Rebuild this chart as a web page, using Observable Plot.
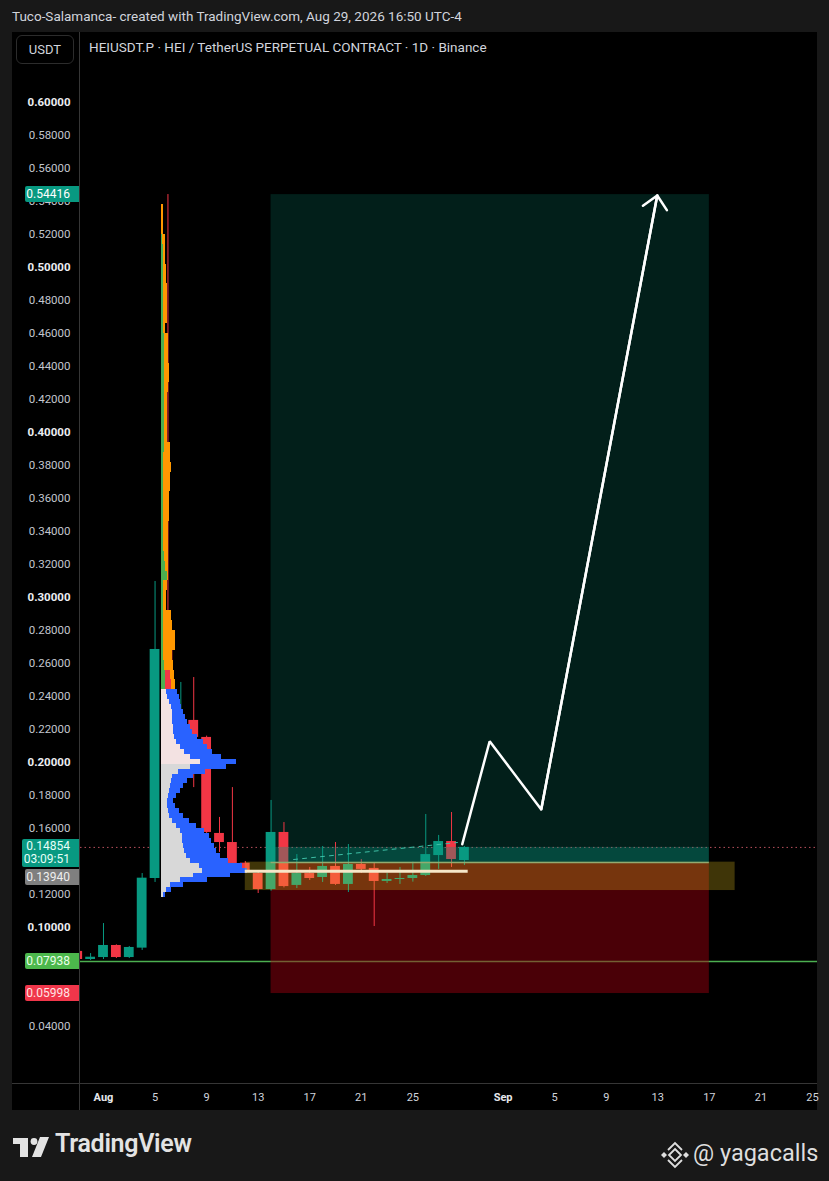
<!DOCTYPE html>
<html>
<head>
<meta charset="utf-8">
<script src="https://cdn.jsdelivr.net/npm/d3@7"></script>
<script src="https://cdn.jsdelivr.net/npm/@observablehq/plot@0.6"></script>
<style>
html,body{margin:0;padding:0;background:#181818;}
body{position:relative;width:829px;height:1181px;overflow:hidden;font-family:Roboto,"Noto Sans",sans-serif;}
#credit{position:absolute;left:12px;top:8px;font-size:13.5px;line-height:17px;color:#d1d4dc;white-space:nowrap;}
#panel{position:absolute;left:12px;top:32px;width:805px;height:1078px;background:#000;}
#panel svg{position:absolute;left:0;top:0;}
#vdiv{position:absolute;left:67px;top:0;width:1px;height:1078px;background:#363636;}
#hdiv{position:absolute;left:0;top:1051px;width:805px;height:1px;background:#363636;}
#unit{position:absolute;left:4px;top:3px;width:58px;height:29px;box-sizing:border-box;border:1px solid #2c2c2c;border-radius:6px;color:#d1d4dc;font-size:13px;line-height:27px;text-align:center;}
#symbol{position:absolute;left:77px;top:7px;font-size:13.5px;line-height:17px;color:#d1d4dc;white-space:nowrap;}
.plabel{position:absolute;box-sizing:border-box;font-size:12px;line-height:16px;text-align:right;padding-right:9px;border-radius:2px 0 0 2px;white-space:nowrap;}
#tvtext{position:absolute;left:55px;top:1129px;font-size:25px;font-weight:600;color:#e3e3e3;letter-spacing:-0.3px;}
#handle{position:absolute;left:693px;top:1139px;font-size:23.5px;color:#dedede;}
#logos{position:absolute;left:0;top:0;}
</style>
</head>
<body>
<div id="credit">Tuco-Salamanca- created with TradingView.com, Aug 29, 2026 16:50 UTC-4</div>
<div id="panel">
  <div id="vdiv"></div>
  <div id="hdiv"></div>
  <div id="unit">USDT</div>
  <div id="symbol">HEIUSDT.P · HEI / TetherUS PERPETUAL CONTRACT · 1D · Binance</div>
</div>
<svg id="logos" width="829" height="1181">
  <rect x="13" y="1138" width="15" height="6" fill="#e3e3e3"/>
  <rect x="20" y="1138" width="8" height="19" fill="#e3e3e3"/>
  <circle cx="34" cy="1141.5" r="3.4" fill="#e3e3e3"/>
  <polygon points="40,1137 49,1137 41,1157 32,1157" fill="#e3e3e3"/>
  <g fill="none" stroke="#dedede" stroke-width="1.8">
    <polygon points="675,1149 681,1155 675,1161 669,1155"/>
    <polyline points="668,1150 675,1143 682,1150"/>
    <polyline points="668,1160 675,1167 682,1160"/>
  </g>
  <g fill="#dedede">
    <polygon points="664,1152 667,1155 664,1158 661,1155"/>
    <polygon points="686,1152 689,1155 686,1158 683,1155"/>
  </g>
</svg>
<div id="tvtext">TradingView</div>
<div id="handle">@ yagacalls</div>
<script>
const DAY = 864e5;
const GREEN = "#089981", RED = "#f23645";

// ---- daily candles ----
const candleDates = ["2026-07-30","2026-07-31","2026-08-01","2026-08-02","2026-08-03","2026-08-04","2026-08-05","2026-08-06","2026-08-07","2026-08-08","2026-08-09","2026-08-10","2026-08-11","2026-08-12","2026-08-13","2026-08-14","2026-08-15","2026-08-16","2026-08-17","2026-08-18","2026-08-19","2026-08-20","2026-08-21","2026-08-22","2026-08-23","2026-08-24","2026-08-25","2026-08-26","2026-08-27","2026-08-28","2026-08-29"];
const candleOpen  = [0.0855,0.0806,0.0818,0.0891,0.0818,0.0875,0.1297,0.2685,0.2205,0.2255,0.2152,0.1570,0.1515,0.1390,0.1327,0.1230,0.1576,0.1255,0.1327,0.1303,0.1370,0.1261,0.1382,0.1358,0.1279,0.1291,0.1297,0.1315,0.1436,0.1521,0.1406];
const candleHigh  = [0.0870,0.0842,0.1024,0.0895,0.0885,0.1327,0.3097,0.5442,0.2485,0.2515,0.2160,0.1667,0.1848,0.1400,0.1340,0.1770,0.1636,0.1442,0.1364,0.1491,0.1515,0.1503,0.1412,0.1394,0.1329,0.1364,0.1396,0.1685,0.1558,0.1697,0.1491];
const candleLow   = [0.0800,0.0800,0.0806,0.0812,0.0812,0.0861,0.1273,0.2150,0.2150,0.1848,0.1560,0.1455,0.1385,0.1330,0.1206,0.1220,0.1240,0.1236,0.1285,0.1273,0.1255,0.1212,0.1327,0.1006,0.1267,0.1261,0.1275,0.1309,0.1352,0.1364,0.1376];
const candleClose = [0.0806,0.0820,0.0891,0.0818,0.0879,0.1299,0.2685,0.2205,0.2255,0.2152,0.1576,0.1515,0.1388,0.1333,0.1230,0.1576,0.1248,0.1327,0.1297,0.1370,0.1261,0.1382,0.1352,0.1279,0.1291,0.1297,0.1315,0.1442,0.1521,0.1412,0.14854];

// ---- visible range volume profile ----
const profileAnchor = "2026-08-05T11:25Z";
const vaRowBottom = [0.118,0.121,0.124,0.127,0.130,0.133,0.136,0.139,0.142,0.145,0.148,0.151,0.154,0.157,0.160,0.163,0.166,0.169,0.172,0.175,0.178,0.181,0.184,0.187,0.190,0.193,0.196,0.199,0.202,0.205,0.208,0.211,0.214,0.217,0.220,0.223,0.226,0.229,0.232,0.235,0.238,0.241];
const vaUpVolume   = [2,5,9,19,32,41,38,29,25,23,22,21,21,19,15,11,8,7,6,6,7,8,9,10,11,17,29,39,29,23,19,15,13,12,12,11,11,11,10,8,6,5];
const vaDownVolume = [2,5,13,27,37,45,43,38,34,32,31,29,27,24,20,17,14,11,8,6,8,11,13,16,21,27,36,36,31,28,27,27,23,19,17,15,13,11,10,11,12,11];
const upRowBottom = [0.244,0.250,0.256,0.262,0.268,0.274,0.280,0.286,0.292,0.298,0.304,0.310,0.316,0.322,0.328,0.334,0.340,0.346,0.352,0.358,0.364,0.370,0.376,0.382,0.388,0.394,0.400,0.406,0.412,0.418,0.424,0.430,0.436,0.442,0.448,0.454,0.460,0.466,0.472,0.478,0.484,0.490,0.496,0.502,0.508,0.514,0.520,0.526,0.532];
const upGreenVolume  = [4,4,3,2.5,2.5,2.5,2.5,2.5,2.5,2.5,2.5,6,4,3,2.5,2.5,2.5,2.5,2.5,2.5,2.5,2.5,2.5,2.5,3,3,3,3,3,3,3,3,3,3,3,3,2.5,2.5,2.5,2.5,2.5,2,2,2,2,1.5,0,0,0];
const upRedVolume    = [6,5,0,0,0,0,0,0,0,0,0,0,0,0,0,0,0,0,0,0,0,0,0,0,0,0,0,0,0,0,0,0,0,0,0,0,0,0,0,0,0,0,0,0,0,0,0,0,0];
const upOrangeVolume = [4,4,9,9,12,12,9,8,3,3,3.5,1.5,3,4,4.5,4.5,5,5.5,6,6,6.5,7,7.5,7,6,3,3,3,3,3,4,5,5,4.5,4,4,2,3.5,3.5,3.5,3.5,3,3,2.5,2.5,2.5,2.6,2.6,2.5];

// ---- axis ticks (0.06, 0.08 and 0.14 sit under price labels) ----
const yTicksMinor = [0.04,0.12,0.16,0.18,0.22,0.24,0.26,0.28,0.32,0.34,0.36,0.38,0.42,0.44,0.46,0.48,0.52,0.54,0.56,0.58];
const yTicksMajor = [0.10,0.20,0.30,0.40,0.50,0.60];
const xTickDates  = ["2026-08-05","2026-08-09","2026-08-13","2026-08-17","2026-08-21","2026-08-25","2026-09-05","2026-09-09","2026-09-13","2026-09-17","2026-09-21","2026-09-25"];
const xMonthDates = ["2026-08-01","2026-09-01"];
const monthNames  = ["Aug","Sep"];

// ---- long position tool & drawings ----
const positionStart = "2026-08-14", positionEnd = "2026-09-17";
const entryPrice = 0.1394, targetPrice = 0.54416, stopPrice = 0.05998, lastPrice = 0.14854;
const zoneStart = "2026-08-12", zoneEnd = "2026-09-19", zoneLow = 0.1224, zoneHigh = 0.1396;
const pocStart = "2026-08-12", pocEnd = "2026-08-29T07:00Z", pocPrice = 0.1341;
const supportPrice = 0.07938;
const pathDates = ["2026-08-15T18:00Z","2026-08-28T11:00Z"];
const pathPrices = [0.1412,0.1515];
const zigDates  = ["2026-08-28T20:00Z","2026-08-30T23:00Z","2026-09-03T23:00Z","2026-09-12T23:00Z"];
const zigPrices = [0.1505,0.2129,0.1715,0.5436];

const priceLabels = [
  {v: targetPrice, text: "0.54416", fill: GREEN, color: "#ffffff"},
  {v: lastPrice, text: "0.14854", sub: "03:09:51", fill: GREEN, color: "#e6fff8"},
  {v: entryPrice, text: "0.13940", fill: "#7f7f7f", color: "#eeeeee"},
  {v: supportPrice, text: "0.07938", fill: "#4cb74c", color: "#eaffea"},
  {v: stopPrice, text: "0.05998", fill: "#f0364a", color: "#ffe4e4"}
];

// ---- build data ----
const candles = candleDates.map((s, i) => ({
  date: new Date(s + "T00:00:00Z"), o: candleOpen[i], h: candleHigh[i], l: candleLow[i], c: candleClose[i],
  color: candleClose[i] >= candleOpen[i] ? GREEN : RED
}));
const anchor = +new Date(profileAnchor);
const volUnit = DAY / 12.89; // one volume unit = one pixel of bar length
const seg = (p0, p1, a, b, fill) => ({p0, p1, x1: new Date(anchor + a * volUnit), x2: new Date(anchor + b * volUnit), fill});
const profile = [];
vaRowBottom.forEach((p, i) => {
  const u = vaUpVolume[i], dn = vaDownVolume[i];
  profile.push(seg(p, p + 0.003, 0, u, p >= 0.199 ? "#f3e2e2" : "#d8d8d8"));
  profile.push(seg(p, p + 0.003, u, u + dn, "#2962ff"));
});
upRowBottom.forEach((p, i) => {
  const g = upGreenVolume[i], r = upRedVolume[i], o = upOrangeVolume[i];
  if (g > 0) profile.push(seg(p, p + 0.006, 0, g, "#4caf50"));
  if (r > 0) profile.push(seg(p, p + 0.006, g, g + r, RED));
  if (o > 0) profile.push(seg(p, p + 0.006, g + r, g + r + o, "#ff9800"));
});
const U = s => new Date(s.length <= 10 ? s + "T00:00:00Z" : s);
const aug1 = +U("2026-08-01");

const chart = Plot.plot({
  width: 805, height: 1078,
  marginLeft: 68, marginRight: 0, marginTop: 0, marginBottom: 27,
  style: {background: "#000", color: "#d1d4dc", fontFamily: "Roboto, sans-serif", overflow: "visible"},
  x: {type: "utc", domain: [new Date(aug1 - 1.784 * DAY), new Date(aug1 + 55.39 * DAY)], axis: null},
  y: {type: "linear", domain: [0.005455, 0.64242], axis: null},
  color: {type: "identity"},
  marks: [
    // position tool boxes
    Plot.rect([0], {x1: () => U(positionStart), x2: () => U(positionEnd), y1: () => entryPrice, y2: () => targetPrice, fill: GREEN, fillOpacity: 0.2}),
    Plot.ruleY([supportPrice], {stroke: "#4caf50", strokeWidth: 1.5}),
    Plot.rect([0], {x1: () => U(positionStart), x2: () => U(positionEnd), y1: () => stopPrice, y2: () => entryPrice, fill: "#a3000f", fillOpacity: 0.45}),
    Plot.ruleY([lastPrice], {stroke: "#b8505c", strokeWidth: 1, strokeDasharray: "1.5,3"}),
    // candles
    Plot.ruleX(candles, {x: "date", y1: "l", y2: "h", stroke: "color", strokeWidth: 1, clip: true}),
    Plot.rect(candles, {x1: d => new Date(+d.date - 0.38 * DAY), x2: d => new Date(+d.date + 0.38 * DAY), y1: "o", y2: "c", fill: "color", clip: true}),
    // volume profile
    Plot.rect(profile, {x1: "x1", x2: "x2", y1: "p0", y2: "p1", fill: "fill", shapeRendering: "crispEdges"}),
    // in-profit band and zone
    Plot.rect([0], {x1: () => U(positionStart), x2: () => U(positionEnd), y1: () => entryPrice, y2: () => lastPrice, fill: GREEN, fillOpacity: 0.34}),
    Plot.ruleY([entryPrice], {x1: U(positionStart), x2: U(positionEnd), stroke: "#6f9e8c", strokeWidth: 1.5}),
    Plot.rect([0], {x1: () => U(zoneStart), x2: () => U(zoneEnd), y1: () => zoneLow, y2: () => zoneHigh, fill: "rgb(250,212,30)", fillOpacity: 0.25}),
    Plot.ruleY([pocPrice], {x1: U(pocStart), x2: U(pocEnd), stroke: "#f6e7c8", strokeWidth: 3}),
    // dashed path of the position
    Plot.line(pathDates.map((s, i) => ({t: U(s), p: pathPrices[i]})), {x: "t", y: "p", stroke: "#3fbfa6", strokeWidth: 1, strokeDasharray: "4,5"}),
    // projected zigzag
    Plot.line(zigDates.map((s, i) => ({t: U(s), p: zigPrices[i]})), {x: "t", y: "p", stroke: "#ffffff", strokeWidth: 2.5, strokeLinejoin: "miter"}),
    Plot.arrow([0], {x1: () => U(zigDates[2]), y1: () => zigPrices[2], x2: () => U(zigDates[3]), y2: () => zigPrices[3], stroke: "#ffffff", strokeWidth: 2.5, headLength: 10.5, headAngle: 88}),
    // axes
    Plot.axisY(yTicksMinor, {anchor: "left", tickSize: 0, tickPadding: 10, tickFormat: d3.format(".5f"), fontSize: 11.5, fill: "#c3c6ce"}),
    Plot.axisY(yTicksMajor, {anchor: "left", tickSize: 0, tickPadding: 10, tickFormat: d3.format(".5f"), fontSize: 11.5, fontWeight: "bold", fill: "#eceef2"}),
    Plot.axisX(xTickDates.map(U), {anchor: "bottom", tickSize: 0, tickPadding: 10, tickFormat: d => String(d.getUTCDate()), fontSize: 11, fill: "#d1d4dc"}),
    Plot.axisX(xMonthDates.map(U), {anchor: "bottom", tickSize: 0, tickPadding: 10, tickFormat: (d, i) => monthNames[i], fontSize: 11, fontWeight: "bold", fill: "#e6e8ec"})
  ]
});
const panel = document.getElementById("panel");
panel.insertBefore(chart, panel.firstChild);

// price labels on the axis, placed through the y scale, pushed down on overlap
const yS = chart.scale("y");
let lastBottom = -Infinity;
priceLabels.slice().sort((a, b) => b.v - a.v).forEach(L => {
  const h = L.sub ? 28 : 16;
  let top = yS.apply(L.v) - 8;
  if (top < lastBottom + 2) top = lastBottom + 2;
  lastBottom = top + h;
  const el = document.createElement("div");
  el.className = "plabel";
  el.style.top = top + "px";
  el.style.left = (L.sub ? 10 : 13) + "px";
  el.style.width = (L.sub ? 57 : 54) + "px";
  el.style.height = h + "px";
  el.style.lineHeight = L.sub ? "13px" : "16px";
  el.style.paddingTop = L.sub ? "1px" : "0";
  el.style.background = L.fill;
  el.style.color = L.color;
  el.innerHTML = L.text + (L.sub ? "<br>" + L.sub : "");
  panel.appendChild(el);
});
</script>
</body>
</html>
